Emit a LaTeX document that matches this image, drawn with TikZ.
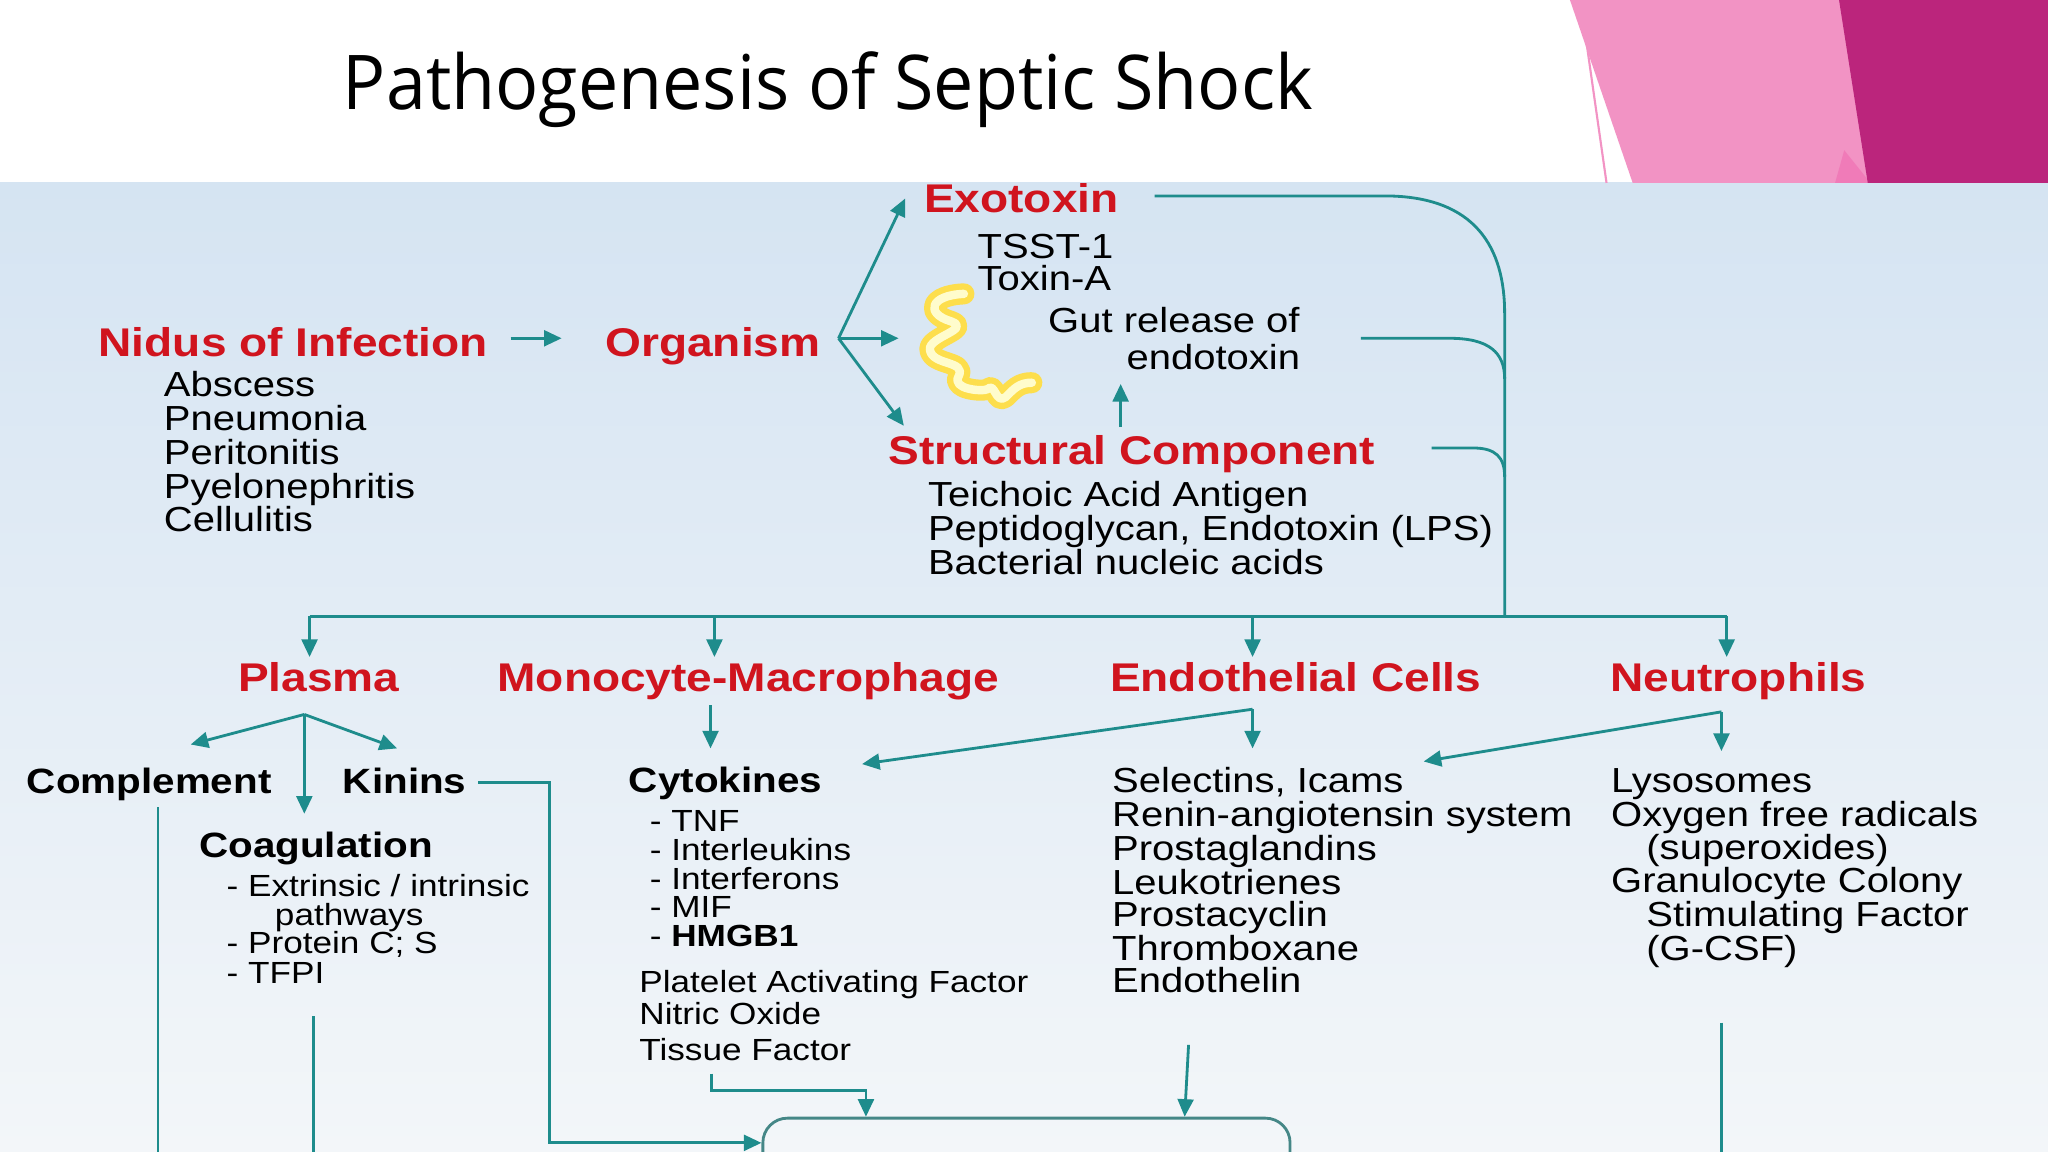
\documentclass[tikz,border=0pt]{standalone}
\usepackage{fontspec}
\setmainfont{Liberation Sans}[FakeStretch=1.15]
\newfontfamily\titlefont{Open Sans}[FakeStretch=0.95]
\usetikzlibrary{arrows.meta}
\definecolor{teal2}{HTML}{1E8C8C}
\definecolor{redh}{HTML}{D0141E}
\definecolor{bgtop}{HTML}{D5E4F2}
\definecolor{bgbot}{HTML}{F3F6F9}
\definecolor{pinkl}{HTML}{F293C4}
\definecolor{pinkm}{HTML}{F07BB8}
\definecolor{mag}{HTML}{BB257C}
\tikzset{
 txt/.style={inner sep=0pt,anchor=west,text height=0.72em,text depth=0pt},
 head/.style={txt,text=redh,font=\fontsize{11.4}{11.4}\selectfont\bfseries},
 item/.style={txt,font=\fontsize{9.9}{9.9}\selectfont},
 small/.style={txt,font=\fontsize{8.7}{8.7}\selectfont},
 bhead/.style={txt,font=\fontsize{10}{10}\selectfont\bfseries},
 con/.style={draw=teal2,line width=0.8pt},
 arr/.style={con,-{Triangle[length=5pt,width=4.5pt]}}
}
\begin{document}
\begin{tikzpicture}[x=0.0130612cm,y=-0.0130612cm]
\useasboundingbox (0,0) rectangle (1568,882);
\fill[white] (0,0) rectangle (1568,140);
\shade[top color=bgtop,bottom color=bgbot] (0,140) rectangle (1568,882);
% decoration
\fill[pinkl] (1202,0) -- (1410,0) -- (1432,140) -- (1250,140) -- cycle;
\fill[pinkm] (1412,115) -- (1432,140) -- (1405,140) -- cycle;
\fill[mag] (1408,0) -- (1568,0) -- (1568,140) -- (1430,140) -- cycle;
\draw[pinkl,line width=0.6pt] (1210,0) -- (1230,140);
\node[txt,font=\titlefont\fontsize{21.5}{21.5}\selectfont] (title) at (262,74) {Pathogenesis of Septic Shock};

% top
\node[head] (exo) at (707,153) {Exotoxin};
\node[item] (tsst) at (748,188) {TSST-1};
\node[item] (toxa) at (748,213) {Toxin-A};
\node[item] (gut1) at (802,245) {Gut release of};
\node[item] (gut2) at (862,273) {endotoxin};
\node[head] (nidus) at (75,263) {Nidus of Infection};
\foreach \t/\y [count=\i] in {Abscess/294,Pneumonia/320,Peritonitis/346,Pyelonephritis/372,Cellulitis/397}
  \node[item] (nl\i) at (125,\y) {\t};
\node[head] (org) at (463,263) {Organism};
\node[head] (struc) at (680,346) {Structural Component};
\node[item] (sc1) at (710,378) {Teichoic Acid Antigen};
\node[item] (sc2) at (710,404) {Peptidoglycan, Endotoxin (LPS)};
\node[item] (sc3) at (710,430) {Bacterial nucleic acids};

% worm
\draw[yellow!70!orange!70,line width=6pt,line cap=round,line join=round]
 (738,225) .. controls (712,226) and (708,240) .. (728,246) .. controls (745,252) and (710,258) .. (712,268)
 .. controls (714,280) and (740,276) .. (734,288) .. controls (728,298) and (752,300) .. (756,298)
 .. controls (762,292) and (762,310) .. (770,304) .. controls (776,298) and (780,293) .. (790,293);
\draw[yellow!20,line width=2.4pt,line cap=round,line join=round]
 (738,225) .. controls (712,226) and (708,240) .. (728,246) .. controls (745,252) and (710,258) .. (712,268)
 .. controls (714,280) and (740,276) .. (734,288) .. controls (728,298) and (752,300) .. (756,298)
 .. controls (762,292) and (762,310) .. (770,304) .. controls (776,298) and (780,293) .. (790,293);

\draw[arr] (nidus.east |- 0,259) ++(17,0) -- (430,259);
\coordinate (osplit) at (642,259);
\draw[arr] (osplit) -- (693,152);
\draw[arr] (osplit) -- (688,259);
\draw[arr] (osplit) -- (692,326);
\draw[arr] (858,327) -- (858,294);
\coordinate (bus) at (1152,472);
\draw[con] (884,150) -- (1060,150) .. controls (1130,150) and (1152,190) .. (1152,240) -- (bus);
\draw[con] (1042,259) -- (1110,259) .. controls (1140,259) and (1152,270) .. (1152,290);
\draw[con] (1096,343) -- (1128,343) .. controls (1145,343) and (1152,350) .. (1152,365);

% bus
\draw[con] (237,472) -- (bus) -- (1322,472);
\foreach \x in {237,547,959,1322} \draw[arr] (\x,472) -- (\x,503);

\node[head,anchor=center] (plasma) at (244,520) {Plasma};
\node[head,anchor=center] (mono) at (573,520) {Monocyte-Macrophage};
\node[head,anchor=center] (endo) at (992,520) {Endothelial Cells};
\node[head,anchor=center] (neut) at (1331,520) {Neutrophils};

% plasma
\coordinate (psplit) at (233,547);
\draw[arr] (psplit) -- (146,570);
\draw[arr] (psplit) -- (304,573);
\draw[arr] (psplit) -- (233,623);
\node[bhead] (comp) at (20,598) {Complement};
\node[bhead] (kin) at (262,598) {Kinins};
\node[bhead] (coag) at (152,647) {Coagulation};
\node[small] (cg1) at (173,677) {- Extrinsic / intrinsic};
\node[small] (cg2) at (210,699) {pathways};
\node[small] (cg3) at (173,720) {- Protein C; S};
\node[small] (cg4) at (173,743) {- TFPI};

% bottom box
\node[draw=teal2!60!gray,line width=0.8pt,rounded corners=7pt,anchor=north west,minimum width=150pt,minimum height=30pt,inner sep=0pt] (box) at (583,855) {};
\draw[arr] (366,599) -- (421,599) -- (421,875) -- (box.west |- 0,875);
\draw[con] (121,618) -- (121,890);
\draw[con] (240,778) -- (240,890);

% mono
\draw[arr] (544,540) -- (544,573);
\node[bhead] (cyto) at (481,597) {Cytokines};
\foreach \t/\y [count=\i] in {- TNF/627,- Interleukins/649,- Interferons/671,- MIF/693}
  \node[small] (ck\i) at (497,\y) {\t};
\node[small] (ck5) at (497,715) {- \textbf{HMGB1}};
\node[small] (paf) at (489,750) {Platelet Activating Factor};
\node[small] (no) at (489,775) {Nitric Oxide};
\node[small] (tf) at (489,802) {Tissue Factor};
\draw[arr] (545,822) -- (545,835) -- (663,835) -- (663,855);

% endothelial
\coordinate (esplit) at (959,543);
\draw[arr] (esplit) -- (959,573);
\draw[arr] (esplit) -- (660,585);
\foreach \t/\y [count=\i] in {{Selectins, Icams}/597,Renin-angiotensin system/623,Prostaglandins/649,Leukotrienes/675,Prostacyclin/700,Thromboxane/726,Endothelin/750}
  \node[item] (en\i) at (851,\y) {\t};
\draw[arr] (910,800) -- (907,855);

% neutrophils
\coordinate (nsplit) at (1318,545);
\draw[arr] (nsplit) -- (1318,575);
\draw[arr] (nsplit) -- (1090,583);
\node[item] (ne1) at (1233,597) {Lysosomes};
\node[item] (ne2) at (1233,623) {Oxygen free radicals};
\node[item] (ne3) at (1260,648) {(superoxides)};
\node[item] (ne4) at (1233,674) {Granulocyte Colony};
\node[item] (ne5) at (1260,700) {Stimulating Factor};
\node[item] (ne6) at (1260,726) {(G-CSF)};
\draw[con] (1318,783) -- (1318,890);
\end{tikzpicture}
\end{document}
